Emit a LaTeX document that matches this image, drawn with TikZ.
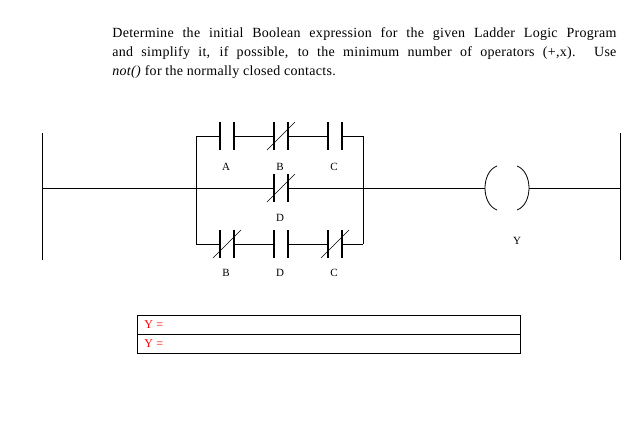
\documentclass[tikz,border=0pt]{standalone}
\usepackage{fontspec}
\setmainfont{Liberation Serif}[LetterSpace=2]
\begin{document}
\begin{tikzpicture}[x=1pt,y=-1pt,line width=0.8pt,
  plate/.style={line width=2.2pt},
  lbl/.style={font=\fontsize{11}{13}\selectfont, inner sep=0}]
\useasboundingbox (0,0) rectangle (640,432);
\node[anchor=north west, text width=504pt, align=justify, inner sep=0,
  font=\fontsize{14}{19}\selectfont] (txt) at (112,27)
 {Determine the initial Boolean expression for the given Ladder Logic Program\linebreak and simplify it, if possible, to the minimum number of operators (+,x). Use\linebreak \textit{not()} for the normally closed contacts.};
% rails
\draw (42,133) -- (42,260);
\draw (620,133) -- (620,260);
% main rung
\draw (42,188) -- (274,188) (289,188) -- (485,188) (529,188) -- (620,188);
\draw (196,136) -- (196,244) (363,136) -- (363,244);
% top & bottom rungs
\draw (196,136) -- (220,136) (233,136) -- (274,136) (289,136) -- (328,136) (343,136) -- (363,136);
\draw (196,244) -- (220,244) (233,244) -- (274,244) (289,244) -- (328,244) (343,244) -- (363,244);
\newcommand{\contact}[3]{% x y nc
  \draw[plate] (#1-7,#2-14) -- (#1-7,#2+14) (#1+7,#2-14) -- (#1+7,#2+14);
  \ifnum#3=1 \draw[line width=0.5pt] (#1-14,#2+14) -- (#1+14,#2-14);\fi}
\contact{227}{136}{0}\contact{281}{136}{1}\contact{335}{136}{0}
\contact{281}{188}{1}
\contact{227}{244}{1}\contact{281}{244}{0}\contact{335}{244}{1}
\node[lbl] (la) at (226,167) {A};
\node[lbl] (lb) at (280,167) {B};
\node[lbl] (lc) at (334,167) {C};
\node[lbl] (ld) at (280,218) {D};
\node[lbl] (lb2) at (226,273) {B};
\node[lbl] (ld2) at (280,273) {D};
\node[lbl] (lc2) at (334,273) {C};
% coil
\draw (497,166) .. controls (481,172) and (481,204) .. (497,210);
\draw (517,166) .. controls (533,172) and (533,204) .. (517,210);
\node[lbl] (ly) at (517,241) {Y};
% answer boxes
\draw[line width=0.6pt] (137,315) rectangle (520,353) (137,334) -- (520,334);
\node[lbl, text=red, anchor=west, font=\fontsize{12}{14}\selectfont] (y1) at (144,325) {Y =};
\node[lbl, text=red, anchor=west, font=\fontsize{12}{14}\selectfont] (y2) at (144,344) {Y =};
\end{tikzpicture}
\end{document}
